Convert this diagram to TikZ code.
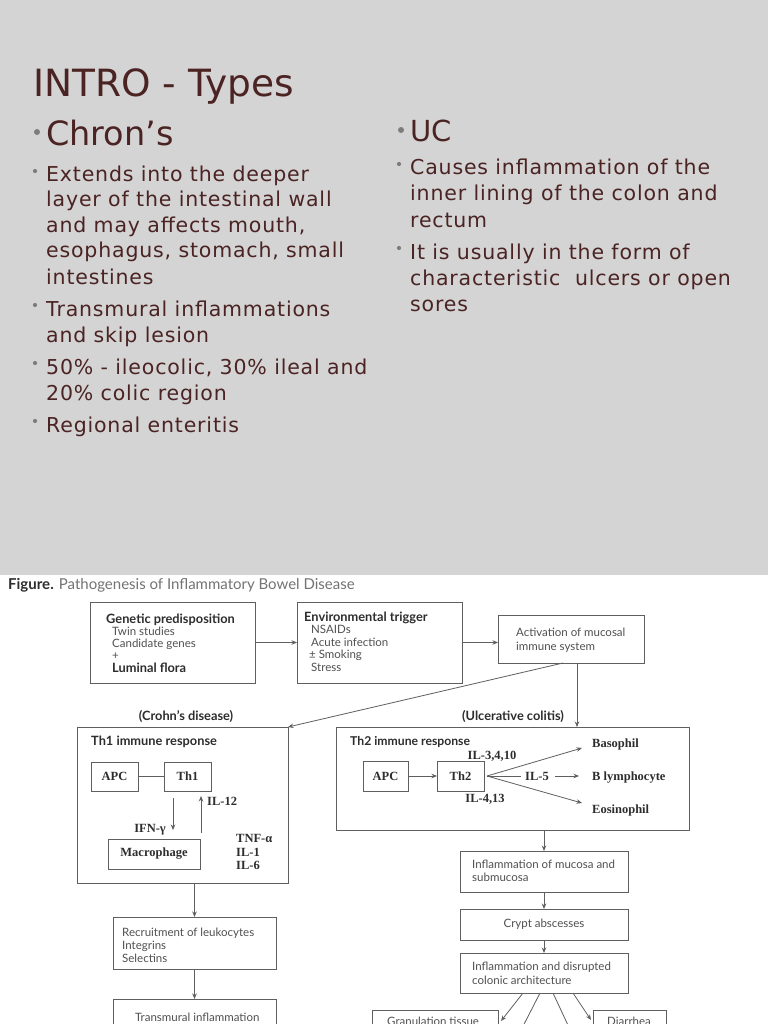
\documentclass[tikz,border=0pt]{standalone}
\usepackage{fontspec}
\setmainfont{DejaVu Sans}
\newfontfamily\slidehead{DejaVu Sans}
\newfontfamily\slidebody[LetterSpace=4.0]{DejaVu Sans}
\newfontfamily\figsans{Lato}
\newfontfamily\figserif{Liberation Serif}
\usetikzlibrary{arrows.meta,calc}
\definecolor{slidebg}{RGB}{212,212,212}
\definecolor{slidetxt}{RGB}{75,35,35}
\definecolor{bulletgray}{RGB}{125,125,125}
\definecolor{figline}{RGB}{95,95,95}
\definecolor{figtxt}{RGB}{80,80,80}
\definecolor{figdark}{RGB}{45,45,45}
\definecolor{captxt}{RGB}{115,115,115}
\tikzset{
 fbox/.style={draw=figline, line width=0.8pt, anchor=north west, inner sep=0pt, outer sep=0pt},
 ftxt/.style={anchor=base west, inner sep=0pt, font=\figsans\fontsize{11.5}{13}\selectfont, text=figtxt},
 fbold/.style={anchor=base west, inner sep=0pt, font=\figsans\bfseries\fontsize{12.8}{14}\selectfont, text=figdark},
 fser/.style={inner sep=0pt, font=\figserif\bfseries\fontsize{12.5}{14}\selectfont, text=figdark},
 arr/.style={draw=figline, line width=0.8pt, -{Stealth[length=5.5pt,width=4.5pt]}},
 conn/.style={draw=figline, line width=0.8pt},
 stxt/.style={anchor=base west, inner sep=0pt, text=slidetxt, font=\slidebody\fontsize{20.5}{24}\selectfont},
 bul/.style={fill=bulletgray}
}
\begin{document}
\begin{tikzpicture}[x=1pt,y=-1pt]
\useasboundingbox (0,0) rectangle (768,1024);
\clip (0,0) rectangle (768,1024);
\fill[slidebg] (0,0) rectangle (768,575);
\fill[white] (0,575) rectangle (768,1024);

% ---------- slide ----------
\node[anchor=base west, inner sep=0pt, text=slidetxt, font=\slidehead\fontsize{37.5}{44}\selectfont] (title) at (33,97) {INTRO - Types};
\fill[bul] (37,132) circle (3);
\node[anchor=base west, inner sep=0pt, text=slidetxt, font=\slidehead\fontsize{33.5}{40}\selectfont] (chron) at (46,146) {Chron’s};
\fill[bul] (401,130) circle (3);
\node[anchor=base west, inner sep=0pt, text=slidetxt, font=\slidehead\fontsize{29}{35}\selectfont] (uc) at (410,142) {UC};

\foreach \n/\yy/\txt in {1/182/{Extends into the deeper}, 2/207/{layer of the intestinal wall}, 3/233/{and may affects mouth,}, 4/258/{esophagus, stomach, small}, 5/284/{intestines}, 6/316/{Transmural inflammations}, 7/342/{and skip lesion}, 8/374/{50\% - ileocolic, 30\% ileal and}, 9/400/{20\% colic region}, 10/432/{Regional enteritis}}
  \node[stxt] (L\n) at (46,\yy) {\txt};
\foreach \yy in {171,305,363,421} \fill[bul] (35,\yy) circle (2.1);

\foreach \n/\yy/\txt in {1/175/{Causes inflammation of the}, 2/201/{inner lining of the colon and}, 3/227/{rectum}, 4/259/{It is usually in the form of}, 5/285/{characteristic\ \ ulcers or open}, 6/311/{sores}}
  \node[stxt] (R\n) at (410,\yy) {\txt};
\foreach \yy in {164,248} \fill[bul] (399,\yy) circle (2.1);

% ---------- figure ----------
\node[anchor=base west, inner sep=0pt, font=\figsans\fontsize{15}{18}\selectfont] (cap) at (8,589) {\textcolor{figdark}{\bfseries Figure.} \textcolor{captxt}{Pathogenesis of Inflammatory Bowel Disease}};

% boxes
\node[fbox, minimum width=165, minimum height=81] (gen) at (90,602) {};
\node[fbox, minimum width=165, minimum height=81] (env) at (297,602) {};
\node[fbox, minimum width=146, minimum height=48] (act) at (498,615) {};
\node[fbox, minimum width=211, minimum height=156] (t1box) at (77,727) {};
\node[fbox, minimum width=47, minimum height=29, fser] (apc1) at (91,762) {APC};
\node[fbox, minimum width=47, minimum height=29, fser] (th1n) at (164,762) {Th1};
\node[fbox, minimum width=92, minimum height=30, fser] (mac) at (108,839) {Macrophage};
\node[fbox, minimum width=353, minimum height=103] (t2box) at (336,727) {};
\node[fbox, minimum width=45, minimum height=30, fser] (apc2) at (363,761) {APC};
\node[fbox, minimum width=47, minimum height=30, fser] (th2n) at (437,761) {Th2};
\node[fbox, minimum width=163, minimum height=52] (rec) at (113,917) {};
\node[fbox, minimum width=163, minimum height=60] (trans) at (113,999) {};
\node[fbox, minimum width=168, minimum height=41] (inf1) at (460,851) {};
\node[fbox, minimum width=168, minimum height=31, font=\figsans\fontsize{11.5}{13}\selectfont, text=figtxt] (crypt) at (460,909) {Crypt abscesses};
\node[fbox, minimum width=168, minimum height=40] (inf2) at (460,953) {};
\node[fbox, minimum width=126, minimum height=40] (gran) at (372,1010) {};
\node[fbox, minimum width=73, minimum height=40] (diar) at (593,1010) {};

% box texts
\node[fbold] (g1) at (106,623) {Genetic predisposition};
\node[ftxt] (g2) at (112,635) {Twin studies};
\node[ftxt] (g3) at (112,647) {Candidate genes};
\node[ftxt] (g4) at (112,659) {+};
\node[fbold] (g5) at (112,672) {Luminal flora};
\node[fbold] (e1) at (304,621) {Environmental trigger};
\node[ftxt] (e2) at (311,633) {NSAIDs};
\node[ftxt] (e3) at (311,646) {Acute infection};
\node[ftxt] (e4) at (309,658) {± Smoking};
\node[ftxt] (e5) at (311,671) {Stress};
\node[ftxt] (ac1) at (516,636) {Activation of mucosal};
\node[ftxt] (ac2) at (516,650) {immune system};
\node[fbold, anchor=base] (crohn) at (186,720) {(Crohn’s disease)};
\node[fbold, anchor=base] (ulc) at (513,720) {(Ulcerative colitis)};
\node[fbold] (t1t) at (91,745) {Th1 immune response};
\node[fbold, font=\figsans\bfseries\fontsize{12.2}{14}\selectfont] (t2t) at (350,745) {Th2 immune response};
\node[ftxt] (rc1) at (122,936) {Recruitment of leukocytes};
\node[ftxt] (rc2) at (122,949) {Integrins};
\node[ftxt] (rc3) at (122,962) {Selectins};
\node[ftxt] (tr1) at (135,1021) {Transmural inflammation};
\node[ftxt] (i11) at (472,868) {Inflammation of mucosa and};
\node[ftxt] (i12) at (472,881) {submucosa};
\node[ftxt] (i21) at (472,970) {Inflammation and disrupted};
\node[ftxt] (i22) at (472,984) {colonic architecture};
\node[ftxt] (gr1) at (387,1025) {Granulation tissue};
\node[ftxt] (di1) at (607,1025) {Diarrhea};

% serif labels
\node[fser, anchor=base west] (il12) at (207,805) {IL-12};
\node[fser, anchor=base east] (ifn) at (166,832) {IFN-γ};
\node[fser, anchor=base west] (tnf) at (236,842) {TNF-α};
\node[fser, anchor=base west] (il1) at (236,856) {IL-1};
\node[fser, anchor=base west] (il6) at (236,869) {IL-6};
\node[fser, anchor=center] (il3) at (492,756) {IL-3,4,10};
\node[fser, anchor=center] (il4) at (485,799) {IL-4,13};
\node[fser, anchor=center] (il5) at (537,776) {IL-5};
\node[fser, anchor=base west] (bas) at (592,747) {Basophil};
\node[fser, anchor=base west] (blym) at (592,780) {B lymphocyte};
\node[fser, anchor=base west] (eos) at (592,813) {Eosinophil};

% connectors
\draw[arr] (gen.east) -- (env.west);
\draw[arr] (env.east) -- (env.east -| act.west);
\coordinate (a1) at ($(act.south west)+(65,0)$);
\coordinate (a2) at ($(act.south west)+(79,0)$);
\draw[arr] (a1) -- (t1box.north east);
\draw[arr] (a2) -- (a2 |- t2box.north);

\draw[conn] (apc1) -- (th1n);
\coordinate (dnx) at (173,0);
\coordinate (upx) at (201,0);
\draw[arr, shorten <=7pt, shorten >=9pt] (th1n.south -| dnx) -- (mac.north -| dnx);
\draw[arr, shorten <=6pt, shorten >=5pt] (mac.north -| upx) -- (th1n.south -| upx);

\draw[arr] (apc2) -- (th2n);
\coordinate (fan) at ($(th2n.east)+(3,0)$);
\coordinate (tb) at (582,748);
\coordinate (te) at (582,803);
\coordinate (tm) at (579,0);
\draw[arr] (fan) -- (tb);
\draw[arr] (fan) -- (te);
\draw[conn, shorten >=4pt] (fan) -- (il5.west);
\draw[arr, shorten <=6pt] (il5.east) -- (il5.east -| tm);

\draw[arr] (t1box.south -| rec.north) -- (rec.north);
\draw[arr] (rec) -- (trans);
\draw[arr] (t2box.south -| inf1.north) -- (inf1.north);
\draw[arr] (inf1) -- (crypt);
\draw[arr] (crypt) -- (inf2);

\coordinate (b1) at ($(inf2.south west)+(63,0)$);
\coordinate (b2) at ($(inf2.south west)+(80,0)$);
\coordinate (b3) at ($(inf2.south west)+(93,0)$);
\coordinate (b4) at ($(inf2.south west)+(113,0)$);
\coordinate (e2end) at (518,1036);
\coordinate (e3end) at (573,1036);
\draw[arr] (b1) -- ($(gran.north east)+(3,11)$);
\draw[conn] (b2) -- (e2end);
\draw[conn] (b3) -- (e3end);
\draw[arr] (b4) -- ($(diar.north west)+(-2,10)$);
\end{tikzpicture}
\end{document}
